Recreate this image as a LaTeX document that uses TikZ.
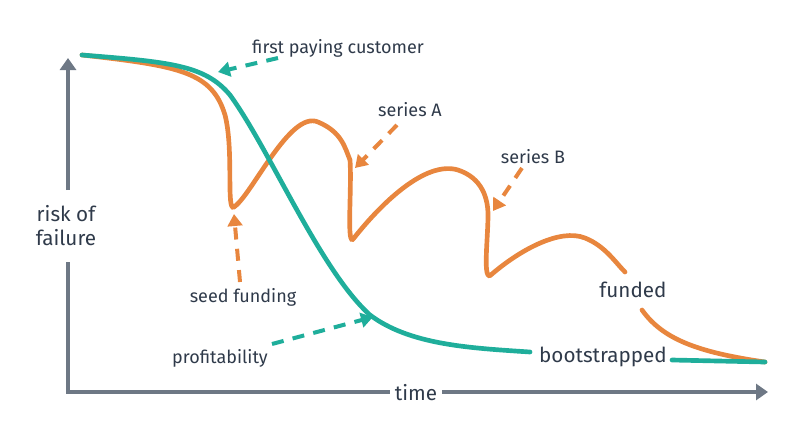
\documentclass[tikz,border=0pt]{standalone}
\usepackage{fontspec}
\setmainfont{Fira Sans}
\usetikzlibrary{arrows.meta}
\definecolor{ax}{HTML}{6E7885}
\definecolor{tl}{HTML}{1FAE9B}
\definecolor{og}{HTML}{E8863E}
\definecolor{tx}{HTML}{2F3A4A}
\tikzset{axis/.style={draw=ax,line width=3.5pt,-{Triangle[length=9pt,width=12pt]}},
curve/.style={line width=3.5pt,line cap=round},
darr/.style={line width=3pt,dash pattern=on 9pt off 7pt,-{Triangle[length=9pt,width=11pt]}},
small/.style={text=tx,font=\fontsize{13.5}{15}\selectfont},
big/.style={text=tx,font=\fontsize{15.5}{18}\selectfont,align=center}}
\begin{document}
\begin{tikzpicture}[x=0.75pt,y=-0.75pt]
\useasboundingbox (0,0) rectangle (800,444);
\node[big] (risk) at (66,226) {risk of\\failure};
\node[big] (time) at (416,393) {time};
\coordinate (o) at (68,392);
\coordinate (ytop) at (68,58);
\coordinate (xend) at (768,392);
\draw[draw=ax,line width=3.5pt] (o) -- (68,262);
\draw[axis] (68,190) -- (ytop);
\draw[draw=ax,line width=3.5pt] (66,392) -- (390,392);
\draw[axis] (442,392) -- (xend);
% orange
\draw[og,curve] (82,55) .. controls (180,66) and (212,72) .. (225,115)
 .. controls (234,150) and (226,212) .. (234,207)
 .. controls (252,195) and (290,110) .. (318,122)
 .. controls (342,132) and (345,148) .. (350,160)
 .. controls (352,190) and (346,250) .. (354,238)
 .. controls (380,205) and (425,160) .. (458,170)
 .. controls (482,178) and (488,198) .. (488,215)
 .. controls (488,240) and (482,285) .. (492,274)
 .. controls (520,250) and (560,228) .. (585,238)
 .. controls (605,246) and (615,262) .. (625,272);
\draw[og,curve] (642,310) .. controls (662,338) and (695,352) .. (765,362);
% teal
\draw[tl,curve] (82,55) .. controls (170,62) and (205,65) .. (230,95)
 .. controls (270,150) and (320,270) .. (370,315)
 .. controls (410,345) and (470,348) .. (530,352);
\draw[tl,curve] (672,360) -- (765,362);
\node[big] (funded) at (633,290) {funded};
\node[big] (boot) at (603,357) {bootstrapped};
\node[small] (fpc) at (338,48) {first paying customer};
\node[small] (sa) at (410,110) {series A};
\node[small] (sb) at (533,157) {series B};
\node[small] (sf) at (243,297) {seed funding};
\node[small] (pr) at (220,358) {profitability};
\coordinate (a1) at (218,72);
\coordinate (a2) at (355,168);
\coordinate (a3) at (493,211);
\coordinate (a4) at (234,214);
\coordinate (a5) at (373,317);
\draw[darr,tl] (278,58) -- (a1);
\draw[darr,og] (397,125) -- (a2);
\draw[darr,og] (522,168) -- (a3);
\draw[darr,og] (240,282) -- (a4);
\draw[darr,tl] (272,344) -- (a5);
\end{tikzpicture}
\end{document}
